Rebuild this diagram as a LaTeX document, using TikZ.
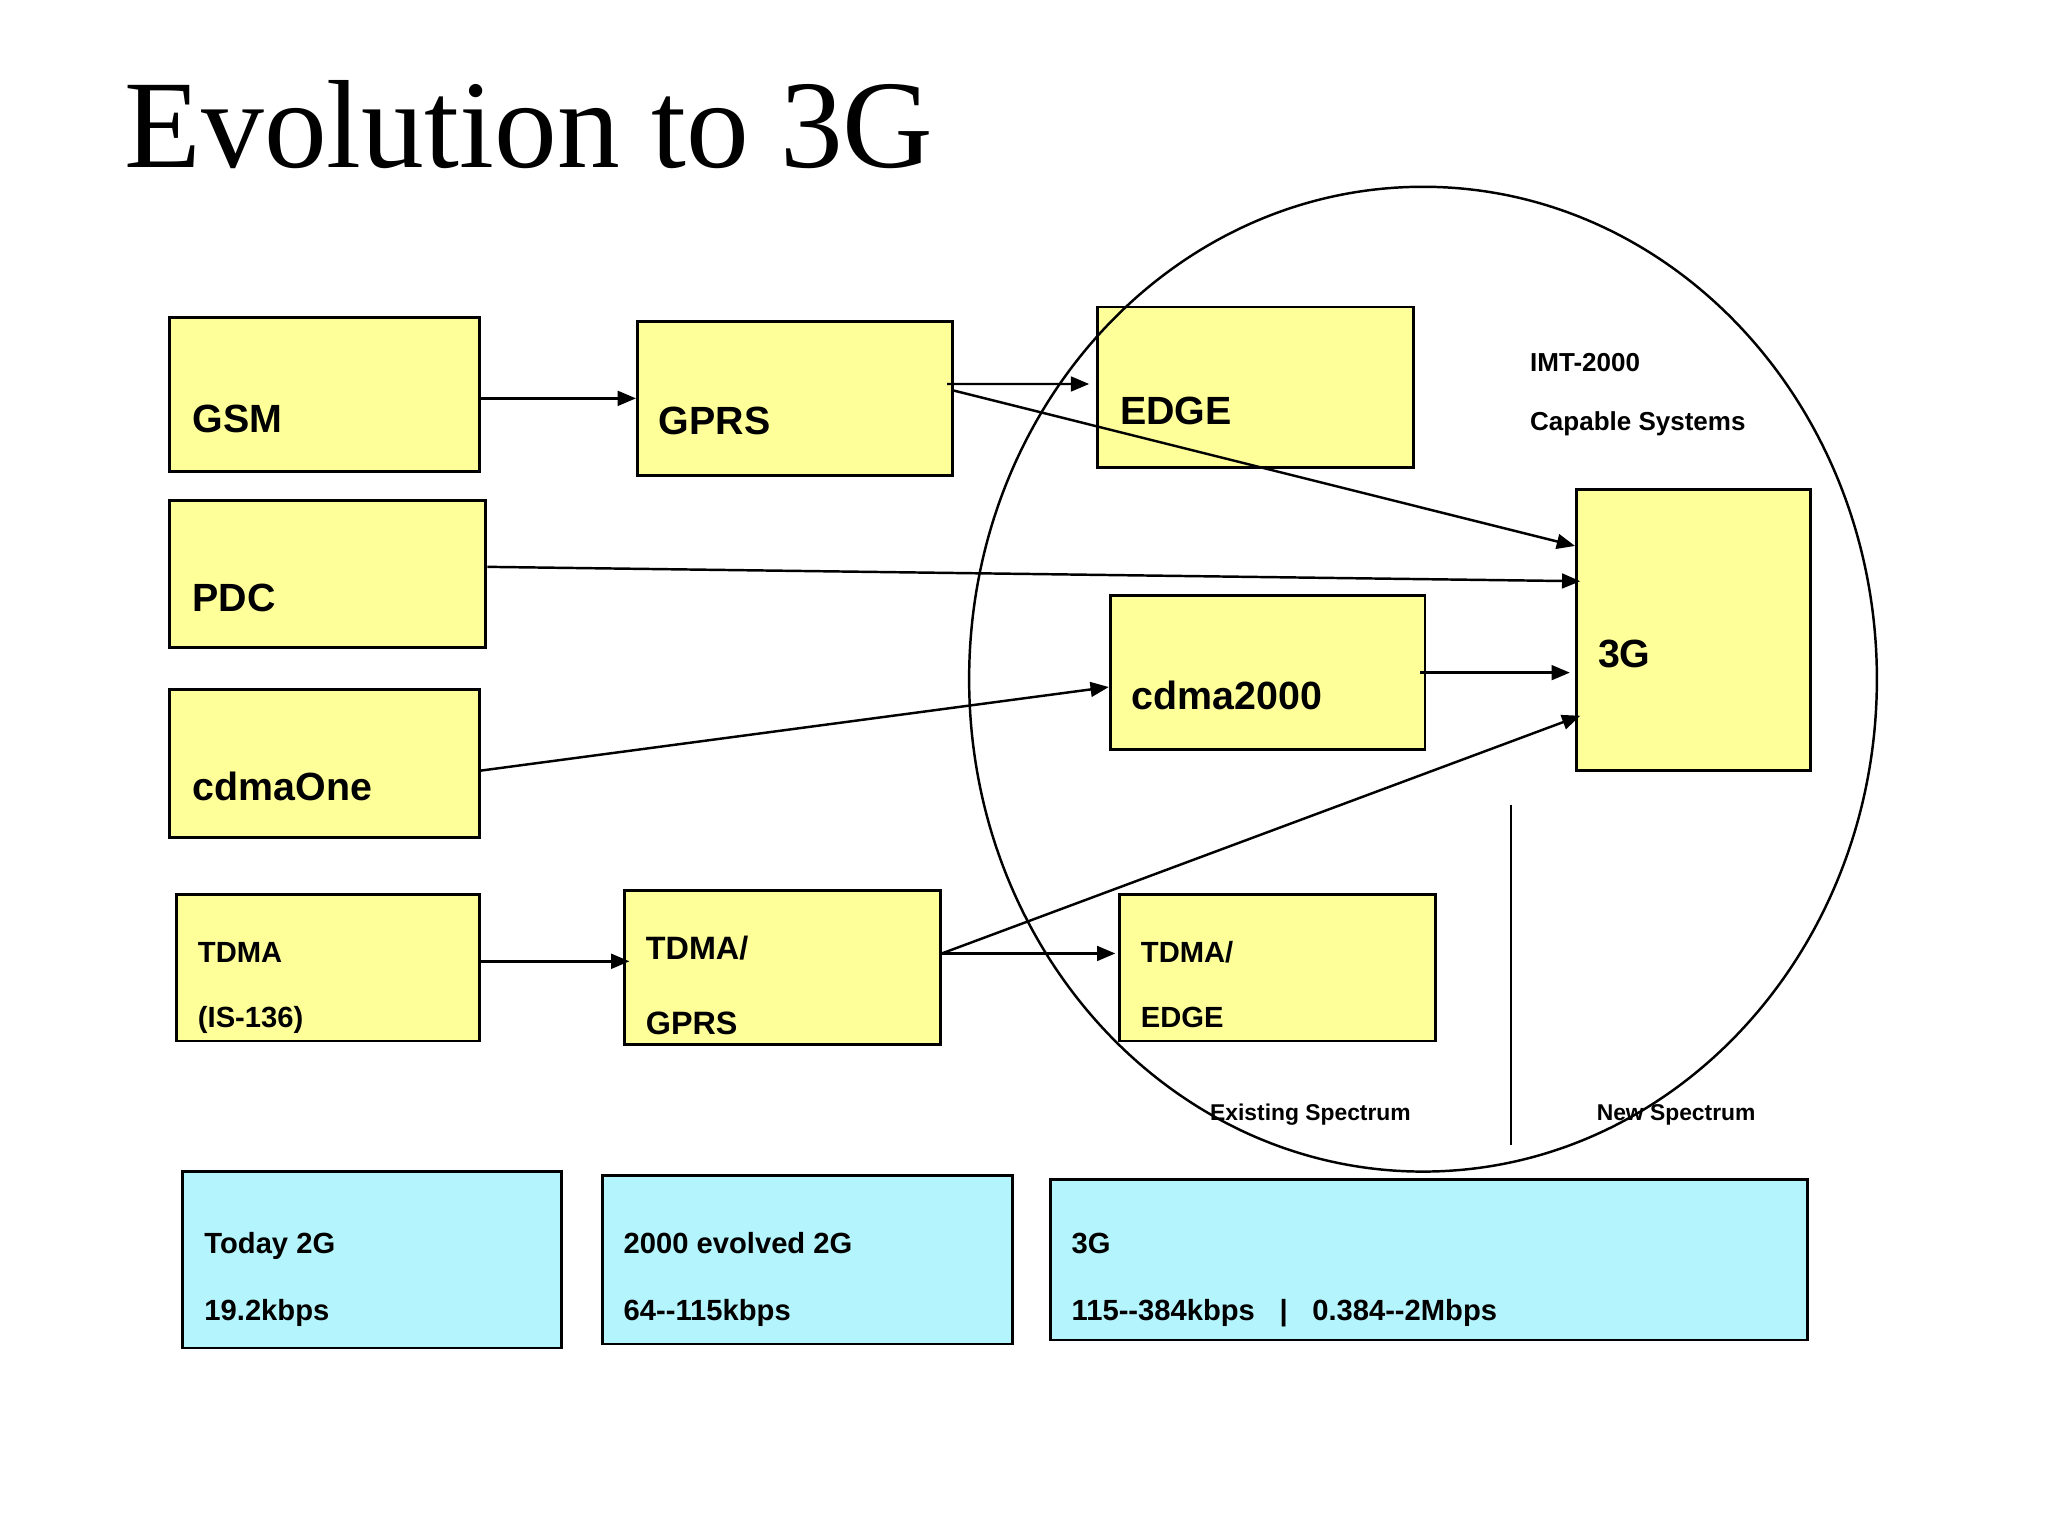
\documentclass[tikz,border=0pt]{standalone}
\usepackage{fontspec}
\setmainfont{Liberation Sans}
\newfontfamily\titlefont{Liberation Serif}
\usepackage{xcolor}
\usepackage{tikz}
\usetikzlibrary{
  arrows.meta,
  fit,
  calc
}

\definecolor{boxyellow}{HTML}{FFFF99}
\definecolor{boxcyan}{HTML}{B4F4FC}

\begin{document}
\begin{tikzpicture}[x=0.013061cm, y=-0.013061cm,
  ybox/.style={draw, line width=0.8pt, fill=boxyellow, inner sep=0pt},
  cbox/.style={draw, line width=0.8pt, fill=boxcyan, inner sep=0pt},
  biglbl/.style={anchor=base west, inner sep=0pt, font=\fontsize{11.2}{13}\selectfont\bfseries},
  midlbl/.style={anchor=base west, inner sep=0pt, font=\fontsize{9.2}{11}\selectfont\bfseries},
  smalllbl/.style={anchor=base west, inner sep=0pt, font=\fontsize{8.3}{10}\selectfont\bfseries},
  tinylbl/.style={anchor=base west, inner sep=0pt, font=\fontsize{7.4}{9}\selectfont\bfseries},
  arr/.style={-{Triangle[length=5.2pt,width=4.2pt]}, line width=0.7pt}
]

\useasboundingbox (0,0) rectangle (1568,1176);

% Title
\node[anchor=base west, inner sep=0pt, font=\titlefont\fontsize{35.7}{40}\selectfont] (title) at (95,128) {Evolution to 3G};

% Systems
\node[ybox, fit={(130,243) (367,361)}] (gsm) {};
\node[ybox, fit={(488,246) (729,364)}] (gprs) {};
\node[ybox, fit={(840,235) (1082,358)}] (edge) {};
\node[ybox, fit={(130,383) (372,496)}] (pdc) {};
\node[ybox, fit={(130,528) (367,641)}] (cdmaone) {};
\node[ybox, fit={(850,456) (1091,574)}] (cdmatwo) {};
\node[ybox, fit={(1207,375) (1386,590)}] (threeg) {};
\node[ybox, fit={(135,685) (367,797)}] (tdma) {};
\node[ybox, fit={(478,682) (720,800)}] (tdmagprs) {};
\node[ybox, fit={(857,685) (1099,797)}] (tdmaedge) {};

\node[biglbl] (gsmtxt) at (147,331) {GSM};
\node[biglbl] (gprstxt) at (504,333) {GPRS};
\node[biglbl] (edgetxt) at (857,325) {EDGE};
\node[biglbl] (pdctxt) at (147,468) {PDC};
\node[biglbl] (cdmaonetxt) at (147,613) {cdmaOne};
\node[biglbl] (cdmatwotxt) at (866,543) {cdma2000};
\node[biglbl] (threegtxt) at (1223,511) {3G};
\node[smalllbl] (tdmatxta) at (151,737) {TDMA};
\node[smalllbl] (tdmatxtb) at (151,787) {(IS-136)};
\node[midlbl] (tdmagprstxta) at (494,735) {TDMA/};
\node[midlbl] (tdmagprstxtb) at (494,792) {GPRS};
\node[smalllbl] (tdmaedgetxta) at (873,737) {TDMA/};
\node[smalllbl] (tdmaedgetxtb) at (873,787) {EDGE};

% IMT-2000 region
\draw[line width=0.7pt] (1089.5,520) ellipse [x radius=347.5, y radius=377];
\draw[line width=0.7pt] (1157,616) -- (1157,877);
\node[tinylbl] (imt) at (1171,284.5) {IMT-2000};
\node[tinylbl] (capable) at (1171,329.5) {Capable Systems};
\node[anchor=base west, inner sep=0pt, font=\fontsize{6.5}{8}\selectfont\bfseries] (existing) at (926,858) {Existing Spectrum};
\node[anchor=base west, inner sep=0pt, font=\fontsize{6.5}{8}\selectfont\bfseries] (newspec) at (1222,858) {New Spectrum};

% Arrows
\draw[arr] ($(gsm.east)+(0,3)$) -- (gprs.west);
\draw[arr] ($(gprs.east)+(-5,-11)$) -- ($(edge.west)+(-5,-2.5)$);
\draw[arr] ($(gprs.east)+(0,-6)$) -- ($(threeg.west)+(0,-64.5)$);
\draw[arr] ($(pdc.east)+(0,-5.5)$) -- ($(threeg.west)+(4,-37.5)$);
\draw[arr] ($(cdmaone.east)+(0,5.5)$) -- ($(cdmatwo.west)+(0,11)$);
\draw[arr] ($(cdmatwo.east)+(-5,0)$) -- ($(threeg.west)+(-4,32.5)$);
\draw[arr] ($(tdmagprs.east)+(0,-11)$) -- ($(threeg.west)+(4,65.5)$);
\draw[arr] ($(tdma.east)+(0,-5)$) -- ($(tdmagprs.west)+(5,-5)$);
\draw[arr] ($(tdmagprs.east)+(0,-11)$) -- ($(tdmaedge.west)+(-2,-11)$);

% Data rates
\node[cbox, fit={(140,897) (430,1032)}] (today) {};
\node[cbox, fit={(461,900) (775,1029)}] (evolved) {};
\node[cbox, fit={(804,903) (1384,1026)}] (third) {};

\node[smalllbl] (todaytxta) at (156,960) {Today 2G};
\node[smalllbl] (todaytxtb) at (156,1011) {19.2kbps};
\node[smalllbl] (evolvedtxta) at (477,960) {2000 evolved 2G};
\node[smalllbl] (evolvedtxtb) at (477,1011) {64-{}-115kbps};
\node[smalllbl] (thirdtxta) at (820,960) {3G};
\node[smalllbl] (thirdtxtb) at (820,1011) {115-{}-384kbps\hspace{7pt}|\hspace{7pt}0.384-{}-2Mbps};

\end{tikzpicture}
\end{document}
